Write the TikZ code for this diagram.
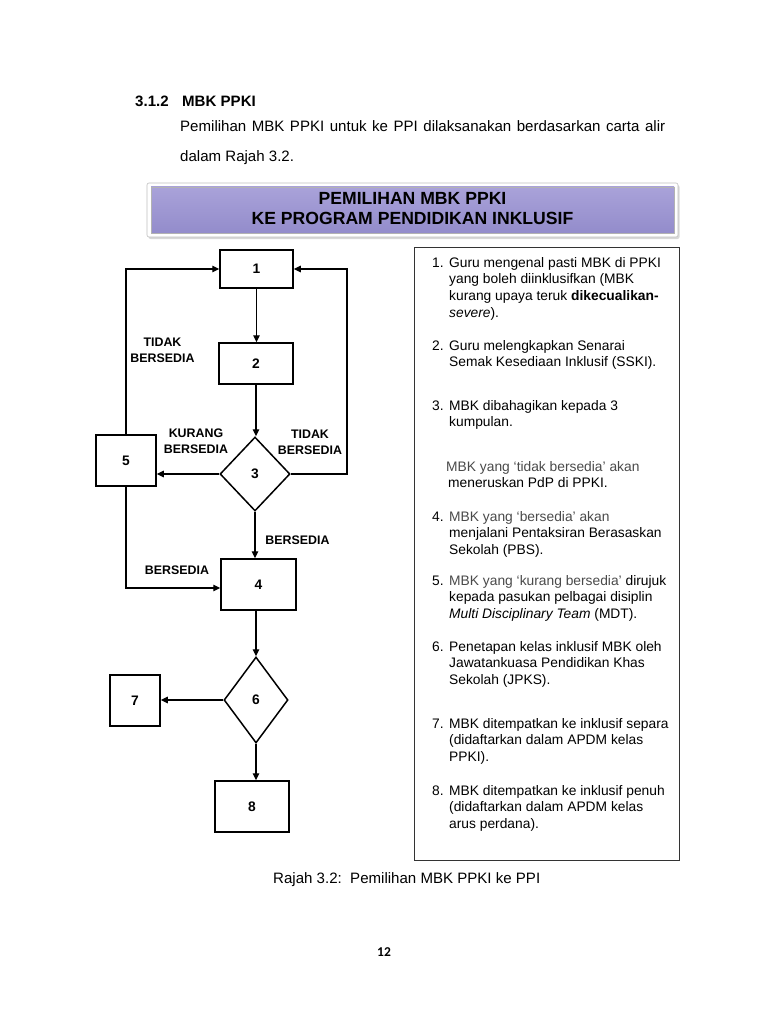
\documentclass[tikz,border=0pt]{standalone}
\usepackage{fontspec}
\setmainfont{Liberation Sans}
\newfontfamily\pagenumfont{Carlito}
\usetikzlibrary{shapes.geometric,arrows.meta,shadows}
\definecolor{titletop}{HTML}{A9A2D9}
\definecolor{titlebot}{HTML}{938CCB}
\definecolor{softtext}{HTML}{4A4A4A}
\tikzset{
  box/.style={draw, line width=1.5pt, inner sep=0pt, font=\bfseries\fontsize{13.8}{16}\selectfont},
  dia/.style={diamond, draw, line width=1.5pt, inner sep=0pt, font=\bfseries\fontsize{13.8}{16}\selectfont},
  arr/.style={line width=1.4pt, -{Triangle[length=7pt,width=6.5pt]}},
  lbl/.style={font=\bfseries\fontsize{12.4}{16}\selectfont, align=center, inner sep=0pt},
  body/.style={font=\fontsize{15.06}{18}\selectfont, anchor=base west, inner sep=0pt},
  itemtxt/.style={font=\fontsize{13.8}{16.7}\selectfont, anchor=base west, inner sep=0pt},
}
\newcommand{\itembox}[1]{\parbox[t]{228pt}{\raggedright #1}}
\begin{document}
\begin{tikzpicture}[x=1pt,y=-1pt]
\useasboundingbox (0,0) rectangle (768,1024);
\fill[white] (0,0) rectangle (768,1024);

% heading and paragraph
\node[body, font=\bfseries\fontsize{15.06}{18}\selectfont] (head) at (135,107) {\makebox[47pt][l]{3.1.2}MBK PPKI};
\node[body] (par1) at (180,132) {\makebox[485pt][s]{Pemilihan MBK PPKI untuk ke PPI dilaksanakan berdasarkan carta alir}};
\node[body] (par2) at (180,162) {dalam Rajah 3.2.};

% title banner
\node[draw=black!25, line width=0.6pt, fill=white, rounded corners=2pt,
      minimum width=531pt, minimum height=54pt, inner sep=0pt,
      drop shadow={opacity=0.3, shadow xshift=1.5pt, shadow yshift=-2pt}] (tframe) at (412.5,210) {};
\node[top color=titletop, bottom color=titlebot, draw=black!30, line width=0.5pt,
      minimum width=523pt, minimum height=46pt, inner sep=0pt] (tfill) at (412.5,210) {};
\node[font=\bfseries\fontsize{17.6}{20}\selectfont, align=center, inner sep=0pt] (title) at (412.5,209)
  {PEMILIHAN MBK PPKI\\KE PROGRAM PENDIDIKAN INKLUSIF};

% flowchart nodes
\node[box, minimum width=73pt, minimum height=38pt] (b1) at (256.5,269) {1};
\node[box, minimum width=74pt, minimum height=41pt] (b2) at (256,363.5) {2};
\node[dia, minimum width=70pt, minimum height=74pt] (d3) at (255,474) {3};
\node[box, minimum width=60pt, minimum height=51pt] (b5) at (126,460.5) {5};
\node[box, minimum width=75pt, minimum height=51pt] (b4) at (258.5,584.5) {4};
\node[dia, minimum width=64pt, minimum height=86pt] (d6) at (256,700) {6};
\node[box, minimum width=50pt, minimum height=51pt] (b7) at (135,700.5) {7};
\node[box, minimum width=74pt, minimum height=51pt] (b8) at (252,806.5) {8};
\coordinate (rx) at (347,474);

% connectors
\draw[arr] (b1.south) -- (b1.south |- b2.north);
\draw[arr] (b2.south) -- (b2.south |- d3.north);
\draw[arr] (d3.west) -- (d3.west -| b5.east);
\draw[arr] (d3.east) -- (rx) |- (b1.east);
\draw[arr] (b5.north) |- (b1.west);
\draw[arr] (b5.south) |- ([yshift=-3.5pt]b4.west);
\draw[arr] (d3.south) -- (d3.south |- b4.north);
\draw[arr] (b4.south -| d6.north) -- (d6.north);
\draw[arr] (d6.west) -- (d6.west -| b7.east);
\draw[arr] (d6.south) -- (d6.south |- b8.north);

% connector labels
\node[lbl] (l1) at (162.5,350) {TIDAK\\BERSEDIA};
\node[lbl] (l2) at (196,441) {KURANG\\BERSEDIA};
\node[lbl] (l3) at (310,442) {TIDAK\\BERSEDIA};
\node[lbl] (l4) at (297.5,540) {BERSEDIA};
\node[lbl] (l5) at (177,570) {BERSEDIA};

% explanation panel
\node[draw=black!80, line width=1.1pt, minimum width=265pt, minimum height=613pt, inner sep=0pt, anchor=north west] (panel) at (414,247) {};

\node[itemtxt] (n1) at (432,267) {1.};
\node[itemtxt] (t1) at (449,267) {\itembox{Guru mengenal pasti MBK di PPKI\\yang boleh diinklusifkan (MBK\\kurang upaya teruk \textbf{dikecualikan-}\\\textit{severe}).}};
\node[itemtxt] (n2) at (432,350) {2.};
\node[itemtxt] (t2) at (449,350) {\itembox{Guru melengkapkan Senarai\\Semak Kesediaan Inklusif (SSKI).}};
\node[itemtxt] (n3) at (432,410) {3.};
\node[itemtxt] (t3) at (449,410) {\itembox{MBK dibahagikan kepada 3\\kumpulan.}};
\node[itemtxt] (t3b) at (446,471) {\itembox{\textcolor{softtext}{MBK yang ‘tidak bersedia’ akan}\\\hspace*{2pt}meneruskan PdP di PPKI.}};
\node[itemtxt] (n4) at (432,521) {4.};
\node[itemtxt] (t4) at (449,521) {\itembox{\textcolor{softtext}{MBK yang ‘bersedia’ akan}\\menjalani Pentaksiran Berasaskan\\Sekolah (PBS).}};
\node[itemtxt] (n5) at (432,585) {5.};
\node[itemtxt] (t5) at (449,585) {\itembox{\textcolor{softtext}{MBK yang ‘kurang bersedia’} dirujuk\\kepada pasukan pelbagai disiplin\\\textit{Multi Disciplinary Team} (MDT).}};
\node[itemtxt] (n6) at (432,651) {6.};
\node[itemtxt] (t6) at (449,651) {\itembox{Penetapan kelas inklusif MBK oleh\\Jawatankuasa Pendidikan Khas\\Sekolah (JPKS).}};
\node[itemtxt] (n7) at (432,728) {7.};
\node[itemtxt] (t7) at (449,728) {\itembox{MBK ditempatkan ke inklusif separa\\(didaftarkan dalam APDM kelas\\PPKI).}};
\node[itemtxt] (n8) at (432,795) {8.};
\node[itemtxt] (t8) at (449,795) {\itembox{MBK ditempatkan ke inklusif penuh\\(didaftarkan dalam APDM kelas\\arus perdana).}};

% caption and page number
\node[body] (cap) at (273,883.5) {Rajah 3.2:\ \ Pemilihan MBK PPKI ke PPI};
\node[font=\pagenumfont\bfseries\fontsize{13.5}{15}\selectfont, inner sep=0pt] (pg) at (384,952) {12};
\end{tikzpicture}
\end{document}
